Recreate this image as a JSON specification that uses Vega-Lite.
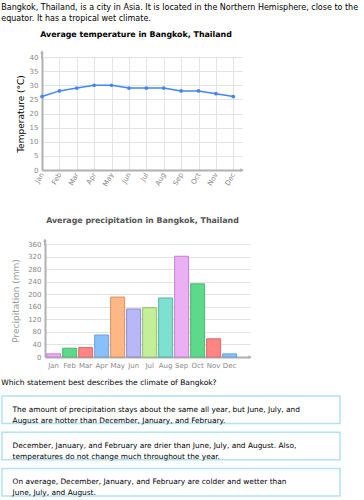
{
  "$schema": "https://vega.github.io/schema/vega-lite/v6.json",
  "padding": {"left": 1, "top": 4, "right": 0, "bottom": 0},
  "title": {
    "text": ["Bangkok, Thailand, is a city in Asia. It is located in the Northern Hemisphere, close to the", "equator. It has a tropical wet climate."],
    "anchor": "start", "fontSize": 8, "fontWeight": "normal", "color": "#000", "lineHeight": 11, "offset": 8
  },
  "datasets": {
    "temp": [
      {"month": "Jan", "temp": 26}, {"month": "Feb", "temp": 28}, {"month": "Mar", "temp": 29},
      {"month": "Apr", "temp": 30}, {"month": "May", "temp": 30}, {"month": "Jun", "temp": 29},
      {"month": "Jul", "temp": 29}, {"month": "Aug", "temp": 29}, {"month": "Sep", "temp": 28},
      {"month": "Oct", "temp": 28}, {"month": "Nov", "temp": 27}, {"month": "Dec", "temp": 26}
    ],
    "precip": [
      {"month": "Jan", "mm": 10}, {"month": "Feb", "mm": 28}, {"month": "Mar", "mm": 30},
      {"month": "Apr", "mm": 70}, {"month": "May", "mm": 191}, {"month": "Jun", "mm": 153},
      {"month": "Jul", "mm": 157}, {"month": "Aug", "mm": 188}, {"month": "Sep", "mm": 321},
      {"month": "Oct", "mm": 233}, {"month": "Nov", "mm": 58}, {"month": "Dec", "mm": 10}
    ],
    "options": [
      {"option": 1, "text": "The amount of precipitation stays about the same all year, but June, July, and\nAugust are hotter than December, January, and February."},
      {"option": 2, "text": "December, January, and February are drier than June, July, and August. Also,\ntemperatures do not change much throughout the year."},
      {"option": 3, "text": "On average, December, January, and February are colder and wetter than\nJune, July, and August."}
    ]
  },
  "spacing": 28,
  "vconcat": [
    {
      "spacing": 0,
      "bounds": "flush",
      "hconcat": [
        {"width": 40, "height": 113, "data": {"values": []}, "mark": "point"},
        {
          "width": 200, "height": 113,
          "title": {"text": "Average temperature in Bangkok, Thailand", "fontSize": 7.9, "fontWeight": "bold", "color": "#000", "offset": 11, "dx": -6},
          "data": {"name": "temp"},
          "layer": [
            {
              "mark": {"type": "line", "color": "#4285f4", "strokeWidth": 1.5, "point": {"filled": true, "color": "#4285f4", "size": 14, "opacity": 1}},
              "encoding": {
                "x": {"field": "month", "type": "ordinal", "sort": null,
                  "scale": {"type": "point", "padding": 0.25, "align": 0},
                  "axis": {"title": null, "domainColor": "#b0b0b0", "domainWidth": 2, "ticks": false, "grid": true, "gridColor": "#e3e3e3", "labelAngle": -60, "labelColor": "#888", "labelFontSize": 7, "labelPadding": 3}},
                "y": {"field": "temp", "type": "quantitative", "scale": {"domain": [0, 40]},
                  "axis": {"title": "Temperature (°C)", "titleColor": "#000", "titleFontSize": 9, "titleFontWeight": "normal", "titlePadding": 4,
                    "values": [0, 5, 10, 15, 20, 25, 30, 35, 40], "domainColor": "#b0b0b0", "domainWidth": 2, "ticks": false, "gridColor": "#e3e3e3", "labelColor": "#888", "labelFontSize": 7, "labelPadding": 4}}
              }
            },
            {
              "data": {"values": [{"part": "y-arrow"}]},
              "encoding": {
                "x": {"datum": 0, "type": "quantitative", "scale": {"domain": [0, 1]}, "axis": null}
              },
              "layer": [
                {
                  "mark": {"type": "rule", "color": "#b0b0b0", "strokeWidth": 2},
                  "encoding": {
                    "y": {"datum": 0.99, "type": "quantitative", "scale": {"domain": [0, 1]}, "axis": null},
                    "y2": {"datum": 1.04}
                  }
                },
                {
                  "mark": {"type": "point", "shape": "triangle-up", "filled": true, "color": "#b0b0b0", "size": 14, "opacity": 1},
                  "encoding": {
                    "y": {"datum": 1.045, "type": "quantitative", "axis": null}
                  }
                },
                {
                  "mark": {"type": "point", "shape": "triangle-right", "filled": true, "color": "#b0b0b0", "size": 14, "opacity": 1},
                  "encoding": {
                    "x": {"datum": 1, "type": "quantitative", "axis": null},
                    "y": {"datum": 0, "type": "quantitative", "axis": null}
                  }
                }
              ]
            }
          ],
          "resolve": {"scale": {"x": "independent", "y": "independent"}}
        }
      ]
    },
    {
      "spacing": 10,
      "vconcat": [
        {
          "spacing": 0,
          "bounds": "flush",
          "hconcat": [
            {"width": 43, "height": 113, "data": {"values": []}, "mark": "point"},
            {
              "width": 205, "height": 113,
              "title": {"text": "Average precipitation in Bangkok, Thailand", "fontSize": 7.9, "fontWeight": "bold", "color": "#555", "offset": 14, "dx": -5},
              "data": {"name": "precip"},
              "layer": [
                {
                  "mark": {"type": "bar", "strokeWidth": 1},
                  "encoding": {
                    "x": {"field": "month", "type": "ordinal", "sort": null,
                      "scale": {"paddingInner": 0.125, "paddingOuter": 0.47, "align": 0.11},
                      "axis": {"title": null, "labelAngle": 0, "domainColor": "#b0b0b0", "domainWidth": 2, "ticks": false, "labelColor": "#888", "labelFontSize": 7, "labelPadding": 4}},
                    "y": {"field": "mm", "type": "quantitative", "scale": {"domain": [0, 360]},
                      "axis": {"title": "Precipitation (mm)", "titleColor": "#999", "titleFontSize": 9, "titleFontWeight": "normal", "titlePadding": 7,
                        "values": [0, 40, 80, 120, 160, 200, 240, 280, 320, 360], "domainColor": "#b0b0b0", "domainWidth": 2, "ticks": false, "gridColor": "#e3e3e3", "labelColor": "#888", "labelFontSize": 7, "labelPadding": 4}},
                    "fill": {"field": "month", "type": "nominal", "sort": null, "legend": null,
                      "scale": {"range": ["#ebb0f3", "#5cd98a", "#ff8484", "#8ac0fa", "#ffb885", "#b9b8f7", "#c2ef98", "#7ee0d1", "#ebb0f3", "#5cd98a", "#ff8484", "#8ac0fa"]}},
                    "stroke": {"field": "month", "type": "nominal", "sort": null, "legend": null,
                      "scale": {"range": ["#c77dcf", "#46b873", "#d86a6a", "#6a9ee0", "#d8905f", "#8a88d6", "#94c06a", "#55b3a5", "#c77dcf", "#46b873", "#d86a6a", "#6a9ee0"]}}
                  }
                },
                {
                  "data": {"values": [{"part": "y-arrow"}]},
                  "encoding": {
                    "x": {"datum": 0, "type": "quantitative", "scale": {"domain": [0, 1]}, "axis": null}
                  },
                  "layer": [
                    {
                      "mark": {"type": "rule", "color": "#b0b0b0", "strokeWidth": 2},
                      "encoding": {
                        "y": {"datum": 0.99, "type": "quantitative", "scale": {"domain": [0, 1]}, "axis": null},
                        "y2": {"datum": 1.03}
                      }
                    },
                    {
                      "mark": {"type": "point", "shape": "triangle-up", "filled": true, "color": "#b0b0b0", "size": 14, "opacity": 1},
                      "encoding": {
                        "y": {"datum": 1.035, "type": "quantitative", "axis": null}
                      }
                    },
                    {
                      "mark": {"type": "point", "shape": "triangle-right", "filled": true, "color": "#b0b0b0", "size": 14, "opacity": 1},
                      "encoding": {
                        "x": {"datum": 1, "type": "quantitative", "axis": null},
                        "y": {"datum": 0, "type": "quantitative", "axis": null}
                      }
                    }
                  ]
                }
              ],
              "resolve": {"scale": {"x": "independent", "y": "independent"}}
            }
          ]
        },
        {
          "width": 338, "height": 100,
          "title": {"text": "Which statement best describes the climate of Bangkok?", "anchor": "start", "fontSize": 7.55, "fontWeight": "normal", "color": "#000", "offset": 9},
          "data": {"name": "options"},
          "layer": [
            {
              "mark": {"type": "rect", "fill": "#ffffff", "stroke": "#b3e2f5", "strokeWidth": 1.5},
              "encoding": {
                "y": {"field": "option", "type": "ordinal", "scale": {"paddingInner": 0.24, "paddingOuter": 0}, "axis": null},
                "x": {"datum": 0, "type": "quantitative", "scale": {"domain": [0, 1]}, "axis": null},
                "x2": {"datum": 1}
              }
            },
            {
              "mark": {"type": "text", "align": "left", "baseline": "middle", "lineBreak": "\n", "lineHeight": 11, "fontSize": 7.4, "dx": 10.6, "color": "#000"},
              "encoding": {
                "y": {"field": "option", "type": "ordinal", "axis": null},
                "x": {"datum": 0, "type": "quantitative"},
                "text": {"field": "text"}
              }
            }
          ]
        }
      ]
    }
  ],
  "config": {
    "font": "DejaVu Sans",
    "view": {"stroke": null}
  }
}
